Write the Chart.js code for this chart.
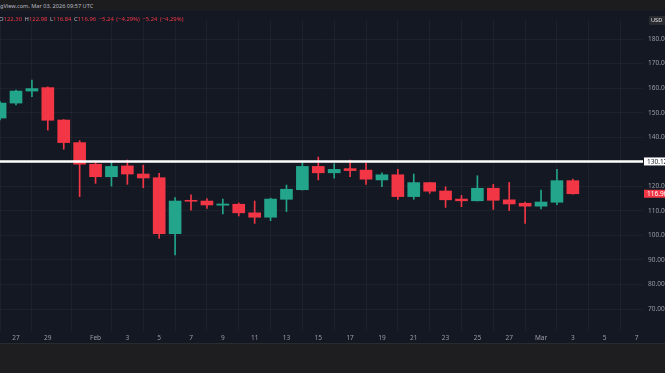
<!DOCTYPE html>
<html>
<head>
<meta charset="utf-8">
<script src="https://cdn.jsdelivr.net/npm/chart.js@4.4.1/dist/chart.umd.min.js"></script>
<style>
  html, body { margin:0; padding:0; background:#141823; width:665px; height:373px; overflow:hidden; font-family:"Noto Sans", "DejaVu Sans", sans-serif; }
  #top { position:absolute; left:0; top:0; width:665px; height:11px; background:#1c1c1e;
         background-image: radial-gradient(#2a2a2c 0.6px, transparent 0.7px); background-size:4px 4px; }
  #l1 { position:absolute; left:0; top:2px; font-size:5.6px; color:#b8bbc4; white-space:nowrap; line-height:8px; }
  #wrap { position:absolute; left:0; top:11px; width:665px; height:332px; background:#141823; }
  #l2 { position:absolute; left:-1px; top:15px; font-size:5.9px; white-space:nowrap; line-height:8px; color:#b8bbc4; z-index:5; word-spacing:1px; }
  #l2 .v { color:#f23645; }
  #usd { position:absolute; left:649px; top:16px; width:16px; height:9px; background:#2a2b30; color:#e6e6e6; font-size:5.6px; line-height:9px; text-align:left; padding-left:2px; border-radius:1px; z-index:5; }
  #bot { position:absolute; left:0; top:343px; width:665px; height:30px; background:#1e1e20;
         background-image: radial-gradient(#2b2b2d 0.6px, transparent 0.7px); background-size:4px 4px; border-top:1px solid #2a2b30; }
</style>
</head>
<body>
<div id="top"><div id="l1">gView.com, Mar 03, 2026 09:57 UTC</div></div>
<div id="wrap"><canvas id="c" width="665" height="332"></canvas></div>
<div id="l2">O<span class="v">122.30</span> H<span class="v">122.98</span> L<span class="v">116.84</span> C<span class="v">116.96</span> <span class="v">−5.24 (−4.29%)</span> <span class="v">−5.24 (−4.29%)</span></div>
<div id="usd">USD</div>
<div id="bot"></div>
<script>
// ---- data ----
const dates = [
  "2026-01-26","2026-01-27","2026-01-28","2026-01-29","2026-01-30","2026-01-31",
  "2026-02-01","2026-02-02","2026-02-03","2026-02-04","2026-02-05","2026-02-06","2026-02-07",
  "2026-02-08","2026-02-09","2026-02-10","2026-02-11","2026-02-12","2026-02-13","2026-02-14",
  "2026-02-15","2026-02-16","2026-02-17","2026-02-18","2026-02-19","2026-02-20","2026-02-21",
  "2026-02-22","2026-02-23","2026-02-24","2026-02-25","2026-02-26","2026-02-27","2026-02-28",
  "2026-03-01","2026-03-02","2026-03-03"
];
const opens  = [147.8,153.9,158.8,160.2,147.0,137.8, 129.0,123.9,128.3,125.0,123.5,100.7,114.3, 114.0,112.3,112.7,109.2,107.4,114.7,118.6, 128.1,125.5,127.2,126.6,122.6,124.7,115.8, 121.5,118.1,114.8,114.1,119.2,114.5,113.1, 111.9,113.5,122.30];
const highs  = [154.5,159.2,163.3,160.5,147.2,138.6, 130.3,130.3,130.7,128.6,125.3,115.4,116.5, 115.0,114.8,113.2,114.0,115.2,120.5,130.3, 131.9,129.2,130.7,129.4,125.5,126.9,125.0, 121.6,119.8,116.3,124.3,120.8,121.6,113.6, 118.5,126.9,122.98];
const lows   = [147.0,153.1,156.5,142.9,135.1,115.8, 121.2,120.1,120.8,119.4, 98.8, 92.0,110.3, 111.0,108.8,107.9,104.9,106.0,109.7,118.5, 122.6,123.3,123.9,120.8,119.8,114.7,114.7, 117.1,111.4,111.7,114.0,110.6,110.1,104.9, 110.8,112.5,116.84];
const closes = [153.9,158.8,159.8,146.9,137.8,129.0, 123.9,128.1,125.0,123.4,100.7,114.0,113.9, 112.4,112.8,109.2,107.4,114.8,118.8,128.1, 125.5,126.9,126.4,122.9,124.7,115.8,121.5, 118.0,114.5,114.1,119.2,114.3,112.8,111.9, 113.6,122.3,116.96];

const xTickDates  = ["2026-01-27","2026-01-29","2026-02-01","2026-02-03","2026-02-05","2026-02-07","2026-02-09","2026-02-11","2026-02-13","2026-02-15","2026-02-17","2026-02-19","2026-02-21","2026-02-23","2026-02-25","2026-02-27","2026-03-01","2026-03-03","2026-03-05","2026-03-07"];
const xTickLabels = ["27","29","Feb","3","5","7","9","11","13","15","17","19","21","23","25","27","Mar","3","5","7"];
const yTicks = [70,80,90,100,110,120,130,140,150,160,170,180];
const levelLine = 130.12;
const lastPrice = 116.96;

// ---- helpers ----
const DAY = 86400000;
const base = Date.UTC(2026,0,27);
const dayIdx = s => { const [y,m,d] = s.split("-").map(Number); return (Date.UTC(y,m-1,d) - base) / DAY; };
const UP = "#22a58a", DOWN = "#f23645";
const colors = opens.map((o,i) => closes[i] >= o ? UP : DOWN);

const bodies = dates.map((d,i) => ({ x: dayIdx(d), y: [opens[i], closes[i]] }));
const wicks  = dates.map((d,i) => ({ x: dayIdx(d), y: [lows[i], highs[i]] }));

const tickPos = xTickDates.map(dayIdx);
const labelFor = {};
tickPos.forEach((p,i) => labelFor[p] = xTickLabels[i]);

// view window (same as the reference's visible range): price 180 at canvas y 28, 2.455 px per unit; day 0 at x 16, 15.91 px per day
const VIEW = { yRefVal: 180, yRefPx: 28, yPxPerUnit: 2.455, xRefPx: 16, xPxPerDay: 15.91 };

const viewPlugin = {
  id: 'view',
  afterLayout(chart) {
    const a = chart.chartArea, ys = chart.scales.y, xs = chart.scales.x;
    ys.max = VIEW.yRefVal + (VIEW.yRefPx - a.top) / VIEW.yPxPerUnit;
    ys.min = VIEW.yRefVal - (a.bottom - VIEW.yRefPx) / VIEW.yPxPerUnit;
    ys.configure();
    xs.min = (a.left - VIEW.xRefPx) / VIEW.xPxPerDay;
    xs.max = (a.right - VIEW.xRefPx) / VIEW.xPxPerDay;
    xs.configure();
  }
};

const tagPlugin = {
  id: 'tags',
  afterDraw(chart) {
    const ctx = chart.ctx, ys = chart.scales.y, area = chart.chartArea;
    const drawTag = (val, bg, fg) => {
      const y = ys.getPixelForValue(val);
      ctx.save();
      ctx.fillStyle = bg;
      ctx.fillRect(area.right + 1, y - 4, 30, 8);
      ctx.fillStyle = fg;
      ctx.font = '6.5px "Noto Sans", sans-serif';
      ctx.textBaseline = 'middle';
      ctx.textAlign = 'left';
      ctx.fillText(val.toFixed(2), area.right + 4, y + 0.5);
      ctx.restore();
    };
    drawTag(levelLine, '#ffffff', '#131722');
    drawTag(lastPrice, DOWN, '#ffffff');
  }
};

new Chart(document.getElementById('c'), {
  type: 'bar',
  data: {
    datasets: [
      { type: 'line', data: [{x:-2, y:levelLine},{x:45, y:levelLine}], borderColor:'#ffffff', borderWidth:2.5, pointRadius:0, order:0 },
      { data: bodies, backgroundColor: colors, barThickness: 12, minBarLength: 1, grouped: false, borderWidth: 0, order: 1 },
      { data: wicks,  backgroundColor: colors, barThickness: 1, grouped: false, borderWidth: 0, order: 2 }
    ]
  },
  options: {
    responsive: false,
    animation: false,
    devicePixelRatio: 1,
    layout: { padding: 0 },
    plugins: { legend: { display:false }, tooltip: { enabled:false } },
    scales: {
      x: {
        type: 'linear',
        offset: false,
        min: -1.006, max: 39.41,
        afterBuildTicks: s => { s.ticks = tickPos.map(v => ({ value: v })); },
        afterFit: s => { s.height = 12; },
        grid: { color: 'rgba(255,255,255,0.045)', drawTicks: false },
        border: { display: false },
        ticks: { autoSkip:false, maxRotation:0, padding: 3, color:'#9a9da6', font:{ size:6.5, family:'"Noto Sans", sans-serif' },
                 callback: v => labelFor[v] ?? '' }
      },
      y: {
        position: 'right',
        min: 61.06, max: 191.405,
        afterBuildTicks: s => { s.ticks = yTicks.map(v => ({ value: v })); },
        afterFit: s => { s.width = 22; },
        grid: { color: 'rgba(255,255,255,0.045)', drawTicks: false },
        border: { display: false },
        ticks: { padding: 5, color:'#9a9da6', font:{ size:6.5, family:'"Noto Sans", sans-serif' },
                 callback: v => Number(v).toFixed(2) }
      }
    }
  },
  plugins: [viewPlugin, tagPlugin]
});
</script>
</body>
</html>
